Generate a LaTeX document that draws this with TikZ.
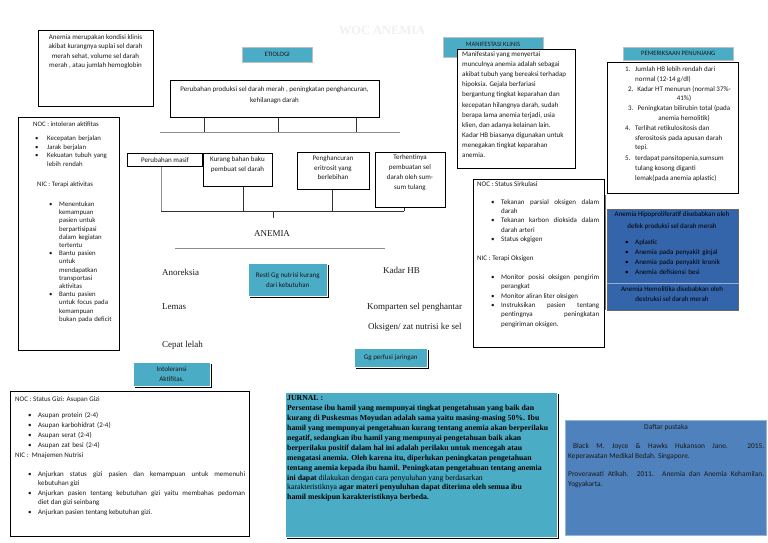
\documentclass[tikz,border=0pt]{standalone}
\usepackage{fontspec}
\setmainfont{Carlito}
\newfontfamily\tms{Liberation Serif}
\usetikzlibrary{shadows}
\definecolor{teal1}{HTML}{4BACC6}
\definecolor{blue1}{HTML}{3464AA}
\definecolor{blue2}{HTML}{4F81BD}
\definecolor{ink}{HTML}{1A1A1A}
\definecolor{divc}{HTML}{97AFD2}
\hyphenpenalty=10000 \exhyphenpenalty=10000 \tolerance=9999 \emergencystretch=10pt
\newcommand\fsz[2]{\fontsize{#1}{#2}\selectfont}
\newcommand\bi[2]{{\leftskip=#1\relax\noindent\llap{\makebox[#1][l]{\textbullet}}#2\par}}
\begin{document}
\begin{tikzpicture}[x=1pt,y=-1pt,
  box/.style={draw=black, line width=0.9pt, fill=white, inner sep=0pt, anchor=north west},
  hdr/.style={fill=teal1, draw=black!25, line width=0.4pt, inner sep=0pt, anchor=north west, text=ink, font=\fsz{6.6}{8}},
  sh/.style={fill=teal1, draw=white, line width=0.5pt, inner sep=0pt, anchor=north west, drop shadow={shadow xshift=1.6pt, shadow yshift=-1.6pt, fill=black, opacity=1}, align=center, text=ink, font=\fsz{7}{10}},
  tx/.style={inner sep=0pt, anchor=north west, align=left, text=ink, font=\fsz{7}{9.3}},
  txc/.style={tx, anchor=north, align=center},
  hd/.style={inner sep=0pt, text=ink, font=\fsz{6.6}{8}},
  sf/.style={inner sep=0pt, anchor=west, text=ink, font=\tms\fsz{9}{11}},
  conn/.style={draw=black!80, line width=0.8pt},
  bus/.style={draw=black!45, line width=0.8pt},
]
\useasboundingbox (0,0) rectangle (768,543);
\fill[white] (0,0) rectangle (768,543);

% title
\node[font=\tms\bfseries\fsz{12.5}{14}, text=black!6, inner sep=0pt] (title) at (382,30) {WOC ANEMIA};

% definition
\node[box, line width=1.3pt, minimum width=115, minimum height=76] (def) at (38,30) {};
\node[txc, font=\fsz{7}{9.4}] (deft) at (95.5,34.3) {Anemia merupakan kondisi klinis\\akibat kurangnya suplai sel darah\\merah sehat, volume sel darah\\merah , atau jumlah hemoglobin};

% etiologi
\node[hdr, minimum width=70, minimum height=15] (eth) at (242,47) {ETIOLOGI};
\node[box, minimum width=209, minimum height=37] (etio) at (170,80) {};
\node[txc, font=\fsz{7}{10.5}] (etiot) at (274.5,86.5) {Perubahan produksi sel darah merah , peningkatan penghancuran,\\kehilanagn darah};
\coordinate (t1) at (204,132); \coordinate (t2) at (278,132); \coordinate (t3) at (356,132);
\coordinate (bl) at (160,132); \coordinate (br) at (400,132);
\draw[bus] (bl) -- (br);
\draw[conn] (etio.south -| t1) -- (t1);
\draw[conn] (etio.south -| t2) -- (t2);
\draw[conn] (etio.south -| t3) -- (t3);

% causes
\node[box, minimum width=75, minimum height=13, text=ink, font=\fsz{7}{9.7}] (masif) at (127,153) {Perubahan masif};
\node[box, minimum width=69, minimum height=33] (kurang) at (203,153) {};
\node[txc, font=\fsz{7}{9.5}] (kurangt) at (237.5,156.5) {Kurang bahan baku\\pembuat sel darah};
\node[box, minimum width=72, minimum height=37] (hancur) at (297,152) {};
\node[txc, font=\fsz{7}{9.6}] (hancurt) at (333,155.5) {Penghancuran\\eritrosit yang\\berlebihan};
\node[box, minimum width=70, minimum height=55] (henti) at (375,152) {};
\node[txc, font=\fsz{7}{10}] (hentit) at (410,154.5) {Terhentinya\\pembuatan sel\\darah oleh sum-\\sum tulang};
\coordinate (b1) at (161,211); \coordinate (b2) at (243,211); \coordinate (b3) at (332,211); \coordinate (b4) at (404,211);
\coordinate (bm) at (273,211); \coordinate (bmd) at (273,218);
\draw[bus] (masif.south -| b1) -- (b1);
\draw[conn] (kurang.south -| b2) -- (b2);
\draw[conn] (hancur.south -| b3) -- (b3);
\draw[conn] (henti.south -| b4) -- (b4);
\draw[conn] (b1) -- (b4);
\draw[conn] (bm) -- (bmd);

% anemia
\node[sf, anchor=center] (anemia) at (272,234) {ANEMIA};
\coordinate (al) at (175,248); \coordinate (ar) at (385,248);
\draw[bus] (al) -- (ar);
\node[sf] (ano) at (162,272) {Anoreksia};
\node[sf] (lem) at (162,307) {Lemas};
\node[sf] (cep) at (162,345) {Cepat lelah};
\node[sf] (khb) at (383,270) {Kadar HB};
\node[sf] (kom) at (367,307) {Komparten sel penghantar};
\node[sf] (oks) at (368,327) {Oksigen/ zat nutrisi ke sel};

\node[sh, minimum width=79, minimum height=33] (resti) at (248,263) {Resti Gg nutrisi kurang\\dari kebutuhan};
\node[sh, minimum width=73, minimum height=19] (perf) at (354,348) {Gg perfusi jaringan};
\node[sh, minimum width=77, minimum height=24] (into) at (133,362) {Intoleransi\\Aktifitas.};

% NOC intoleran
\node[box, minimum width=101, minimum height=233] (noca) at (18,117) {};
\node[tx, font=\fsz{6.8}{8.7}] (nocat) at (33,121.5) {NOC : intoleran aktifitas};
\node[tx, text width=75, font=\fsz{6.8}{8.7}] (nocal) at (35,135.5) {\bi{12pt}{Kecepatan berjalan}\bi{12pt}{Jarak berjalan}\bi{12pt}{Kekuatan tubuh yang\\lebih rendah}};
\node[tx, font=\fsz{6.8}{8.7}] (nicat) at (37,181.5) {NIC : Terapi aktivitas};
\node[tx, text width=70, font=\fsz{6.8}{8.2}] (nical) at (49,201.5) {\bi{10pt}{Menentukan\\kemampuan\\pasien untuk\\berpartisipasi\\dalam kegiatan\\tertentu}\bi{10pt}{Bantu pasien\\untuk\\mendapatkan\\transportasi\\aktivitas}\bi{10pt}{Bantu pasien\\untuk focus pada\\kemampuan\\bukan pada deficit}};

% manifestasi
\node[hdr, minimum width=100, minimum height=20] (mkh) at (443,37) {};
\node[hd] (mkht) at (493,44) {MANIFESTASI KLINIS};
\node[box, minimum width=118, minimum height=119] (mk) at (457,49) {};
\node[tx, font=\fsz{7}{10.1}] (mkt) at (462,51.5) {Manifestasi yang menyertai\\munculnya anemia adalah sebagai\\akibat tubuh yang bereaksi terhadap\\hipoksia. Gejala berfariasi\\bergantung tingkat keparahan dan\\kecepatan hilangnya darah, sudah\\berapa lama anemia terjadi, usia\\klien, dan adanya kelainan lain.\\Kadar HB biasanya digunakan untuk\\menegakan tingkat keparahan\\anemia.};

% pemeriksaan
\node[hdr, minimum width=110, minimum height=13] (pph) at (623,47) {PEMERIKSAAN PENUNJANG};
\node[box, minimum width=131, minimum height=131] (pp) at (607,62) {};
\node[tx, font=\fsz{7}{10}] (n1) at (625,66.5) {1.};
\node[tx, font=\fsz{7}{10}] (p1) at (635,66.5) {Jumlah HB lebih rendah dari\\normal (12-14 g/dl)};
\node[tx, font=\fsz{7}{9}] (n2) at (628,86.5) {2.};
\node[txc, font=\fsz{7}{9}] (p2) at (684,86.5) {Kadar HT menurun (normal 37\%-\\41\%)};
\node[tx, font=\fsz{7}{10}] (n3) at (628,105.5) {3.};
\node[txc, font=\fsz{7}{10}] (p3) at (684,105.5) {Peningkatan bilirubin total (pada\\anemia hemolitik)};
\node[tx, font=\fsz{7}{9.6}] (n4) at (625,125.5) {4.};
\node[tx, font=\fsz{7}{9.6}] (p4) at (635,125.5) {Terlihat retikulositosis dan\\sferositosis pada apusan darah\\tepi.};
\node[tx, font=\fsz{7}{10}] (n5) at (625,155.5) {5.};
\node[tx, font=\fsz{7}{10}] (p5) at (635,155.5) {terdapat pansitopenia,sumsum\\tulang kosong diganti\\lemak(pada anemia aplastic)};

% NOC sirkulasi
\node[box, minimum width=131, minimum height=168] (ns) at (473,179) {};
\node[tx] (nst) at (477,181.5) {NOC : Status Sirkulasi};
\node[tx, text width=108, align=justify, font=\fsz{7}{9.2}] (nsl) at (491,199.5) {\bi{10pt}{Tekanan parsial oksigen dalam darah}\bi{10pt}{Tekanan karbon dioksida dalam darah arteri}\bi{10pt}{Status okgigen}};
\node[tx] (nit) at (477,255.5) {NIC : Terapi Oksigen};
\node[tx, text width=108, align=justify, font=\fsz{7}{9.3}] (nil) at (491,274.5) {\bi{10pt}{Monitor posisi oksigen pengirim perangkat}\bi{10pt}{Monitor aliran liter oksigen}\bi{10pt}{Instruksikan pasien tentang\linebreak pentingnya peningkatan\linebreak pengiriman oksigen.}};

% blue box
\draw[black!55, line width=1pt] (605,195) -- (605,310);
\node[box, fill=blue1, draw=black!60, line width=0.8pt, minimum width=131, minimum height=101] (hb) at (607,209) {};
\node[tx, anchor=north, align=center, text=black, font=\fsz{7}{11.7}] (hbt1) at (672,211.5) {Anemia Hipoproliferatif disebabkan oleh\\defek produksi sel darah merah};
\node[tx, text=black, text width=100, font=\fsz{7}{10}] (hbl) at (625,239.5) {\bi{10pt}{Aplastic}\bi{10pt}{Anemia pada penyakit ginjal}\bi{10pt}{Anemia pada penyakit kronik}\bi{10pt}{Anemia defisiensi besi}};
\node[tx, anchor=north, align=center, text=black, font=\fsz{7}{10}] (hbt2) at (672,286.5) {Anemia Hemolitika disebabkan oleh\\destruksi sel darah merah};
\coordinate (dv) at (672,283);
\draw[divc, line width=0.8pt] (hb.west |- dv) -- (hb.east |- dv);

% gizi
\node[box, minimum width=239, minimum height=145] (gz) at (10,391) {};
\node[tx] (gzt) at (15,396.5) {NOC : Status Gizi: Asupan Gizi};
\node[tx, text width=150, font=\fsz{7}{10}] (gzl) at (28,412.5) {\bi{10pt}{Asupan protein (2-4)}\bi{10pt}{Asupan karbohidrat (2-4)}\bi{10pt}{Asupan serat (2-4)}\bi{10pt}{Asupan zat besi (2-4)}};
\node[tx] (gnt) at (15,452.5) {NIC :\ \ Mnajemen Nutrisi};
\node[tx, text width=217, align=justify, font=\fsz{7}{9.4}] (gnl) at (28,471.5) {\bi{10pt}{Anjurkan status gizi pasien dan kemampuan untuk memenuhi\linebreak kebutuhan gizi}\bi{10pt}{Anjurkan pasien tentang kebutuhan gizi yaitu membahas pedoman\linebreak diet dan gizi seinbang}\bi{10pt}{Anjurkan pasien tentang kebutuhan gizi.}};

% jurnal
\node[sh, minimum width=272, minimum height=145] (jr) at (285,392) {};
\node[tx, text=black, font=\tms\bfseries\fsz{7.75}{9.9}] (jrt) at (287,395.5) {JURNAL :\\Persentase ibu hamil yang mempunyai tingkat pengetahuan yang baik dan\\kurang di Puskesmas Moyudan adalah sama yaitu masing-masing 50\%. Ibu\\hamil yang mempunyai pengetahuan kurang tentang anemia akan berperilaku\\negatif, sedangkan ibu hamil yang mempunyai pengetahuan baik akan\\berperilaku positif dalam hal ini adalah perilaku untuk mencegah atau\\mengatasi anemia. Oleh karena itu, diperlukan peningkatan pengetahuan\\tentang anemia kepada ibu hamil. Peningkatan pengetahuan tentang anemia\\ini dapat {\mdseries dilakukan dengan cara penyuluhan yang berdasarkan}\\{\mdseries karakteristiknya} agar materi penyuluhan dapat diterima oleh semua ibu\\hamil meskipun karakteristiknya berbeda.};

% daftar pustaka
\node[box, fill=blue2, draw=blue2!60!white, line width=0.6pt, minimum width=201, minimum height=115] (dpk) at (565,420) {};
\node[txc, font=\fsz{7.4}{9.3}] (dpt) at (666,424.5) {Daftar pustaka};
\node[tx, text width=196, align=justify, font=\fsz{7.4}{9.4}] (dpl) at (568,443.5) {\hspace*{5pt}Black M. Joyce \& Hawks Hukanson Jane. 2015.\linebreak Keperawatan Medikal Bedah. Singapore.\par\vspace{9pt}\noindent Proverawati Atikah. 2011. Anemia dan Anemia Kehamilan.\linebreak Yogyakarta.};
\end{tikzpicture}
\end{document}
